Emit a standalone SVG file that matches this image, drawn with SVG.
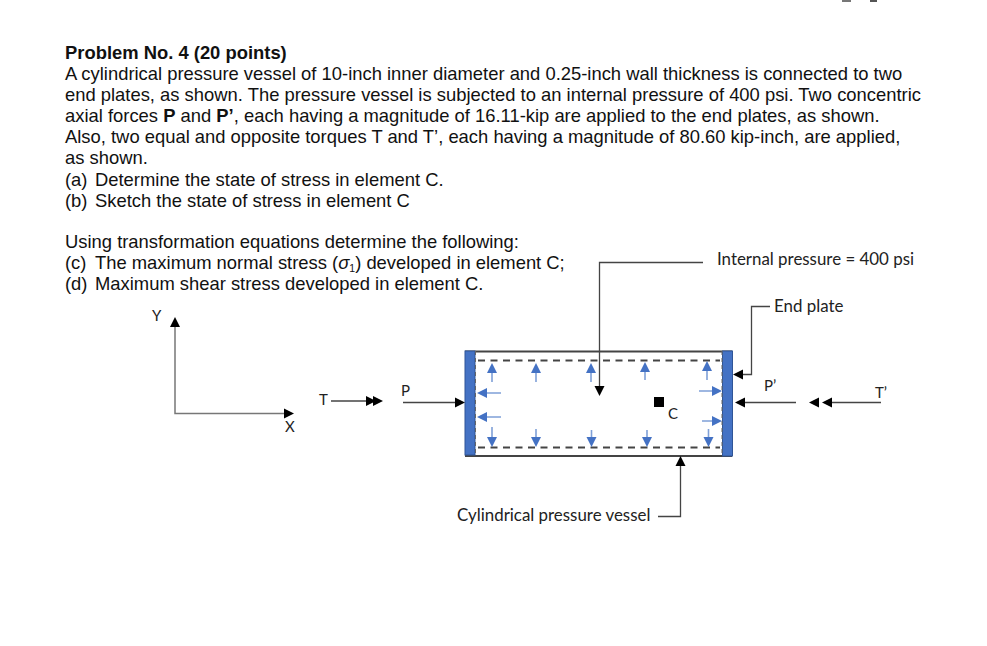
<svg xmlns="http://www.w3.org/2000/svg" width="987" height="646" viewBox="0 0 987 646">
<style>
.t{font-family:"Liberation Sans",Arial,sans-serif;font-size:18.4px;fill:#111}
.b{font-weight:bold}
.l{font-family:Lato,"Open Sans",sans-serif;font-size:16.9px;fill:#222}
.s{font-size:15px}
.k{stroke:#444;stroke-width:1.3;fill:none}
.h{fill:#000;stroke:none}
.bl{stroke:#7fa0d8;stroke-width:1.6;fill:none}
.ah{fill:#4472c4;stroke:none}
.d{stroke:#444;stroke-width:2;stroke-dasharray:7 5.500;fill:none}
.pl{fill:#4472c4;stroke:#2f5597;stroke-width:1}
</style>
<defs>
<path id="bu" d="M0 0L-5 10H5Z" class="ah"/>
<path id="bd" d="M0 0L-5 -10H5Z" class="ah"/>
<path id="bl" d="M0 0L10 -5V5Z" class="ah"/>
<path id="br" d="M0 0L-10 -5V5Z" class="ah"/>
<path id="kr" d="M0 0L-10 -5V5Z" class="h"/>
<path id="kl" d="M0 0L10 -5V5Z" class="h"/>
<path id="ku" d="M0 0L-5 10H5Z" class="h"/>
<path id="kd" d="M0 0L-5 -10H5Z" class="h"/>
</defs>
<rect width="987" height="646" fill="#fff"/>
<rect x="842" y="0" width="9" height="2" fill="#777"/>
<rect x="870" y="0" width="7" height="2" fill="#555"/>
<g id="problem-text">
<text class="t b" x="65" y="59">Problem No. 4 (20 points)</text>
<text class="t" x="65" y="79.500">A cylindrical pressure vessel of 10-inch inner diameter and 0.25-inch wall thickness is connected to two</text>
<text class="t" x="65" y="100.500">end plates, as shown. The pressure vessel is subjected to an internal pressure of 400 psi. Two concentric</text>
<text class="t" x="65" y="121.500">axial forces <tspan class="b">P</tspan> and <tspan class="b">P’</tspan>, each having a magnitude of 16.11-kip are applied to the end plates, as shown.</text>
<text class="t" x="65" y="142.500">Also, two equal and opposite torques T and T’, each having a magnitude of 80.60 kip-inch, are applied,</text>
<text class="t" x="65" y="163.500">as shown.</text>
<text class="t" x="65" y="185.500">(a)<tspan x="95">Determine the state of stress in element C.</tspan></text>
<text class="t" x="65" y="206.500">(b)<tspan x="95">Sketch the state of stress in element C</tspan></text>
<text class="t" x="65" y="248">Using transformation equations determine the following:</text>
<text class="t" x="65" y="269">(c)<tspan x="95">The maximum normal stress (</tspan><tspan font-style="italic">σ</tspan><tspan font-size="10.500" dy="3">1</tspan><tspan dy="-3">) developed in element C;</tspan></text>
<text class="t" x="65" y="290">(d)<tspan x="95">Maximum shear stress developed in element C.</tspan></text>
</g>
<g id="vessel">
<path d="M465 351.500H732M465 456H732" stroke="#444" stroke-width="2" fill="none"/>
<path class="d" d="M478 360.500H720M478 447.500H720"/>
<rect class="pl" x="465" y="351" width="10" height="104"/>
<rect class="pl" x="722.500" y="351" width="10" height="105"/>
<path d="M475.500 351V455M722 351V456" stroke="#666" stroke-width="1" stroke-dasharray="4 3" fill="none"/>
</g>
<g id="pressure-arrows">
<path class="bl" d="M492 382V368M536 382V368M591 382V368M645 380V367M707 380V366M501 393H482M501 417H482M492 427V442M536 429V442M591.500 430V442M647 430V442M708.500 429V442M699 391H713M702 421H713"/>
<use href="#bu" x="492" y="363"/><use href="#bu" x="536" y="363"/><use href="#bu" x="591" y="363"/><use href="#bu" x="645" y="362"/><use href="#bu" x="707" y="361"/>
<use href="#bl" x="477" y="393"/><use href="#bl" x="477" y="417"/>
<use href="#bd" x="492" y="447"/><use href="#bd" x="536" y="447"/><use href="#bd" x="591.500" y="447"/><use href="#bd" x="647" y="447"/><use href="#bd" x="708.500" y="447"/>
<use href="#br" x="722" y="391"/><use href="#br" x="722" y="421"/>
</g>
<g id="connectors">
<path class="k" d="M703 262.500H599.500V388"/><use href="#kd" x="599.500" y="396"/>
<path class="k" d="M770 306.500H751.500V374.500H742"/><use href="#kl" x="733" y="374.500"/>
<path class="k" d="M658 516.500H680.500V465"/><use href="#ku" x="680.500" y="456"/>
<path class="k" d="M403 402.500H457"/><use href="#kr" x="465" y="402.500"/>
<path class="k" d="M331 401H368" stroke-width="1.800"/><use href="#kr" x="376" y="401"/><use href="#kr" x="383" y="401"/>
<path class="k" d="M796 402.500H742"/><use href="#kl" x="735" y="402.500"/>
<path class="k" d="M881 402.500H830"/><use href="#kl" x="809" y="402.500"/><use href="#kl" x="822" y="402.500"/>
</g>
<g id="axes">
<path d="M175 326V413.500H285" stroke="#777" stroke-width="1.500" fill="none"/>
<use href="#ku" x="175" y="317"/><use href="#kr" x="294" y="413.500"/>
<text class="l s" x="152" y="321">Y</text>
<text class="l s" x="285" y="432">X</text>
</g>
<g id="labels">
<text class="l" x="717" y="264.500">Internal pressure = 400 psi</text>
<text class="l" x="774" y="311.500">End plate</text>
<text class="l" x="457" y="520.500">Cylindrical pressure vessel</text>
<text class="l s" x="319" y="405">T</text>
<text class="l s" x="401" y="396">P</text>
<text class="l s" x="764" y="391">P’</text>
<text class="l s" x="875" y="398">T’</text>
<text class="l s" x="668" y="419">C</text>
</g>
<g id="element-c"><rect x="654" y="397" width="10" height="10" fill="#000"/></g>
</svg>
